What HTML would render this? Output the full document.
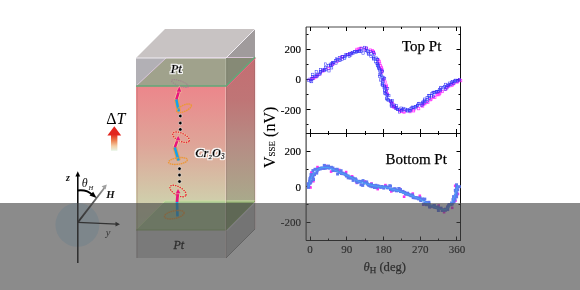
<!DOCTYPE html>
<html><head><meta charset="utf-8">
<style>
html,body{margin:0;padding:0;background:#fff;}
body{width:580px;height:290px;overflow:hidden;position:relative;}
svg{position:absolute;left:0;top:0;will-change:transform;}
.ov{position:absolute;left:0;top:203px;width:580px;height:87px;background:rgba(72,72,72,0.63);}
</style></head><body>
<svg width="580" height="290" viewBox="0 0 580 290" style="font-family:'Liberation Serif',serif">
<defs>
<linearGradient id="crF" x1="0" y1="0" x2="0" y2="1">
<stop offset="0" stop-color="#ec868b"/>
<stop offset="0.4" stop-color="#dfa498"/>
<stop offset="0.79" stop-color="#d0cdab"/>
<stop offset="1" stop-color="#c8d6ad"/>
</linearGradient>
<linearGradient id="crS" x1="0" y1="0" x2="0" y2="1">
<stop offset="0" stop-color="#c46e72"/>
<stop offset="0.25" stop-color="#bf7576"/>
<stop offset="0.5" stop-color="#b68c84"/>
<stop offset="0.83" stop-color="#a9a98b"/>
<stop offset="1" stop-color="#a2b08a"/>
</linearGradient>
<linearGradient id="arr" x1="0" y1="0" x2="0" y2="1">
<stop offset="0" stop-color="#e2301f"/>
<stop offset="0.35" stop-color="#ec8050"/>
<stop offset="0.7" stop-color="#f4cfa6"/>
<stop offset="1" stop-color="#e6f4e6"/>
</linearGradient>
<linearGradient id="harr" gradientUnits="userSpaceOnUse" x1="77.8" y1="222.4" x2="106.8" y2="184.6">
<stop offset="0" stop-color="#101010"/>
<stop offset="0.5" stop-color="#555"/>
<stop offset="1" stop-color="#a0a0a0"/>
</linearGradient>
<filter id="halo" x="-20%" y="-20%" width="140%" height="140%">
<feMorphology operator="dilate" radius="0.8" in="SourceAlpha" result="d"/>
<feGaussianBlur in="d" stdDeviation="0.5" result="b"/>
<feFlood flood-color="#fff"/><feComposite in2="b" operator="in" result="w"/>
<feMerge><feMergeNode in="w"/><feMergeNode in="SourceGraphic"/></feMerge>
</filter>
</defs>

<!-- ===== Cuboid ===== -->
<!-- bottom Pt -->
<polygon points="226,230 255,201 255,229 226,258" fill="#c2c2c2"/>
<rect x="136" y="230" width="90" height="28" fill="#d0d0d0"/>
<!-- Cr2O3 -->
<rect x="136" y="86" width="90" height="144" fill="url(#crF)"/>
<polygon points="226,86 255,57 255,201 226,230" fill="url(#crS)"/>
<!-- bottom Pt top face (seen through) -->
<polygon points="136,230 226,230 255,201 165,201" fill="#aac692"/>
<polygon points="226,230 255,201 226,201" fill="#88a06c"/>
<path d="M136,230 L165,201 L255,201" stroke="#c8e0a0" stroke-width="1" fill="none"/>
<path d="M136,230 L226,230 L255,201" stroke="#8fb06a" stroke-width="1" fill="none"/>
<path d="M226.5,231 L255,202.5" stroke="#f0f0f0" stroke-width="0.8" fill="none"/>
<path d="M226,258 L255,229" stroke="#808080" stroke-width="0.8" fill="none"/>
<line x1="137.3" y1="87" x2="137.3" y2="258" stroke="#906060" stroke-width="0.9" opacity="0.3"/>
<line x1="225.5" y1="86" x2="225.5" y2="258" stroke="#f0d8d0" stroke-width="0.8" opacity="0.55"/>
<line x1="226.6" y1="86" x2="226.6" y2="258" stroke="#806060" stroke-width="0.8" opacity="0.3"/>
<line x1="254.6" y1="57" x2="254.6" y2="229" stroke="#705050" stroke-width="0.8" opacity="0.3"/>
<line x1="255.7" y1="57" x2="255.7" y2="229" stroke="#f0c8c8" stroke-width="0.8" opacity="0.6"/>
<!-- top Pt -->
<polygon points="136,58 226,58 255,29 165,29" fill="#c8c3c3"/>
<rect x="136" y="58" width="90" height="28" fill="#a0a28c"/>
<polygon points="136,58 166.5,58 136,86.5" fill="#b2b0b5"/>
<polygon points="226,58 255,29 255,57 226,57" fill="#a09b9c"/>
<polygon points="226,57 255,57 226,86" fill="#868a76"/>
<line x1="225.6" y1="58" x2="225.6" y2="86" stroke="#b4b6a4" stroke-width="0.8"/>
<line x1="227" y1="58" x2="227" y2="86" stroke="#7c806c" stroke-width="0.8" opacity="0.6"/>
<path d="M136,86 L166.5,57.5 L255,57.5" stroke="#d8c4d6" stroke-width="1" fill="none"/>
<path d="M226.8,87.2 L255.5,58.5" stroke="#e06a84" stroke-width="1" fill="none"/>
<path d="M136,86 L226,86 L255,57" stroke="#62a878" stroke-width="1.5" fill="none"/>
<path d="M136,58 L226,58 L255,29" stroke="#f0ecf2" stroke-width="1" fill="none"/>

<!-- spins -->
<g fill="none">
<ellipse cx="180" cy="83.5" rx="9" ry="2.6" transform="rotate(20 180 83.5)" stroke="#a07a90" stroke-width="1" stroke-dasharray="1.3 0.9" opacity="0.8"/>
<path d="M179,91 L176.3,99.5" stroke="#f4e0a0" stroke-width="3.8"/>
<path d="M176.3,99.5 L178.8,111.5" stroke="#f0a040" stroke-width="4.4"/>
<path d="M179,91 L176.3,99.5" stroke="#e8157c" stroke-width="2.6"/>
<polygon points="179.4,85.8 176.2,92 181.8,92.2" fill="#e8157c" stroke="#f0d8a0" stroke-width="0.5"/>
<path d="M176.3,99.5 L178.8,111.5" stroke="#16a0ec" stroke-width="2.6"/>
<ellipse cx="184" cy="108.3" rx="8" ry="3.1" transform="rotate(-24 184 108.3)" stroke="#ec9838" stroke-width="1.4" stroke-dasharray="1.6 0.6"/>

<ellipse cx="181" cy="137.2" rx="9" ry="4" transform="rotate(25 181 137.2)" stroke="#f0f0b0" stroke-width="2" opacity="0.7"/>
<ellipse cx="181" cy="137.2" rx="9" ry="4" transform="rotate(25 181 137.2)" stroke="#e8283c" stroke-width="1.4" stroke-dasharray="1.5 0.9"/>
<path d="M177.5,140 L174.8,147.5" stroke="#f4e0a0" stroke-width="3.8"/>
<path d="M174.8,147.5 L178.6,160.5" stroke="#f0a040" stroke-width="4.4"/>
<path d="M177.5,140 L174.8,147.5" stroke="#e8157c" stroke-width="2.6"/>
<polygon points="178.2,135.2 175.2,140.8 180.9,140.6" fill="#e8157c" stroke="#f0d8a0" stroke-width="0.5"/>
<path d="M174.8,147.5 L178.6,160.5" stroke="#16a0ec" stroke-width="2.6"/>
<ellipse cx="178" cy="161" rx="9.5" ry="3.2" transform="rotate(-8 178 161)" stroke="#ec9838" stroke-width="1.4" stroke-dasharray="1.6 0.6"/>

<ellipse cx="178" cy="191" rx="9" ry="4.2" transform="rotate(30 178 191)" stroke="#d8f0b0" stroke-width="2.2" opacity="0.8"/>
<ellipse cx="178" cy="191" rx="9" ry="4.2" transform="rotate(30 178 191)" stroke="#e8283c" stroke-width="1.4" stroke-dasharray="1.5 0.9"/>
<path d="M177.8,193 L177,202" stroke="#e8157c" stroke-width="2.8"/>
<polygon points="178,188.3 175.2,193.8 180.9,193.6" fill="#e8157c" stroke="#e0f0b0" stroke-width="0.5"/>
<path d="M177,202 L177.5,216.5" stroke="#16a0ec" stroke-width="2.6"/>
<ellipse cx="174.3" cy="214.7" rx="10" ry="3.8" transform="rotate(-12 174.3 214.7)" stroke="#ec9838" stroke-width="1.4" stroke-dasharray="1.6 0.6"/>
</g>
<g fill="#000" stroke="#fff" stroke-width="0.5">
<circle cx="180.3" cy="116" r="1.75"/><circle cx="180.3" cy="123.1" r="1.75"/><circle cx="180.3" cy="129.4" r="1.75"/>
<circle cx="179.5" cy="168.7" r="1.75"/><circle cx="179.5" cy="175" r="1.75"/><circle cx="179.5" cy="181.5" r="1.75"/>
</g>
<g filter="url(#halo)" font-weight="bold" font-style="italic" fill="#000" stroke="#000" stroke-width="0.35">
<text x="170.6" y="72.7" font-size="12.5">Pt</text>
<text x="195.2" y="157.2" font-size="12.6">Cr<tspan font-size="7" dy="2.2">2</tspan><tspan dy="-2.2">O</tspan><tspan font-size="7.4" dy="2.2">3</tspan></text>
</g>
<text x="173.4" y="248.6" font-size="12" font-style="italic" fill="#000" stroke="#000" stroke-width="0.3">Pt</text>

<!-- Delta T arrow -->
<text x="106.2" y="124" font-size="16" fill="#000">Δ<tspan font-style="italic">T</tspan></text>
<polygon points="107.4,135.6 114.3,126.2 121.2,135.6" fill="#e2261e"/>
<rect x="111" y="135" width="6.4" height="15.8" fill="url(#arr)"/>

<!-- coordinate system -->
<circle cx="77.4" cy="224.8" r="22" fill="#daf0ff"/>
<line x1="77.8" y1="263" x2="77.8" y2="174" stroke="#000" stroke-width="1.5"/>
<polygon points="75.4,176.5 77.8,171.3 80.2,176.5" fill="#000"/>
<line x1="77.8" y1="222.4" x2="117" y2="224.1" stroke="#111" stroke-width="1.3"/>
<polygon points="115.5,221.8 120,224.2 115.5,226.4" fill="#111"/>
<line x1="77.8" y1="222.4" x2="104.5" y2="187.8" stroke="url(#harr)" stroke-width="1.8"/>
<polygon points="101.6,186.2 106.8,184.6 105.6,189.6" fill="#a0a0a0"/>
<path d="M77.6,190.4 Q87,189.2 92.5,195" stroke="#000" stroke-width="2" fill="none"/>
<polygon points="89.5,195.6 96.6,197.9 93.2,191.8" fill="#000"/>
<text x="66" y="180.7" font-size="10" font-style="italic" font-weight="bold" fill="#111">z</text>
<text x="81.8" y="186.7" font-size="12" font-style="italic" fill="#111">θ</text>
<text x="88.4" y="189.8" font-size="6.5" font-style="italic" fill="#111">H</text>
<text x="106.2" y="197.6" font-size="10.8" font-style="italic" font-weight="bold" fill="#111">H</text>
<text x="105.8" y="235.8" font-size="10.5" font-style="italic" fill="#111">y</text>

<!-- ===== Plot ===== -->
<g stroke="#111" stroke-width="1" fill="none">
<line x1="306" y1="27" x2="460.5" y2="27" stroke="#333" stroke-width="0.9"/>
<line x1="306.1" y1="27" x2="306.1" y2="240.5" stroke="#333" stroke-width="1.1"/>
<line x1="460.5" y1="26.5" x2="460.5" y2="241"/>
<line x1="306" y1="133.5" x2="460.5" y2="133.5"/>
<line x1="306" y1="240.5" x2="460.5" y2="240.5"/>
</g>
<g stroke="#000" stroke-width="1" fill="none">
<path d="M310.5,27v4 M310.5,129v8 M310.5,240.5v-4 M346.5,27v4 M346.5,129v8 M346.5,240.5v-4 M383.5,27v4 M383.5,129v8 M383.5,240.5v-4 M420.5,27v4 M420.5,129v8 M420.5,240.5v-4 M456.5,27v4 M456.5,129v8 M456.5,240.5v-4 M328.5,27v2 M328.5,131v4 M328.5,240.5v-2 M365.5,27v2 M365.5,131v4 M365.5,240.5v-2 M401.5,27v2 M401.5,131v4 M401.5,240.5v-2 M438.5,27v2 M438.5,131v4 M438.5,240.5v-2 M306.5,49.5h4 M460.5,49.5h-4 M306.5,79.5h4 M460.5,79.5h-4 M306.5,109.5h4 M460.5,109.5h-4 M306.5,151.5h4 M460.5,151.5h-4 M306.5,186.5h4 M460.5,186.5h-4 M306.5,222.5h4 M460.5,222.5h-4 M306.5,34.5h2 M460.5,34.5h-2 M306.5,64.5h2 M460.5,64.5h-2 M306.5,94.5h2 M460.5,94.5h-2 M306.5,124.5h2 M460.5,124.5h-2 M306.5,169.5h2 M460.5,169.5h-2 M306.5,204.5h2 M460.5,204.5h-2"/>
</g>
<g font-size="11" fill="#000" stroke="#000" stroke-width="0.15" text-anchor="end">
<text x="301" y="53.2">200</text>
<text x="301" y="83.4">0</text>
<text x="301" y="113.6">-200</text>
<text x="301" y="155">200</text>
<text x="301" y="190.5">0</text>
<text x="301" y="226">-200</text>
</g>
<g font-size="11" fill="#000" stroke="#000" stroke-width="0.15" text-anchor="middle">
<text x="310.1" y="252.7">0</text>
<text x="346.8" y="252.7">90</text>
<text x="383.5" y="252.7">180</text>
<text x="420.2" y="252.7">270</text>
<text x="456.9" y="252.7">360</text>
</g>
<text x="363.6" y="271" font-size="12.6" fill="#000" stroke="#000" stroke-width="0.25"><tspan font-style="italic">θ</tspan><tspan font-size="9" dy="2">H</tspan><tspan dy="-2"> (deg)</tspan></text>
<text transform="translate(275 168) rotate(-90)" font-size="16" fill="#000" stroke="#000" stroke-width="0.1">V<tspan font-size="9">SSE</tspan> (nV)</text>
<text x="402" y="51.1" font-size="15" fill="#000" stroke="#000" stroke-width="0.25">Top Pt</text>
<text x="385.6" y="164.2" font-size="15" fill="#000" stroke="#000" stroke-width="0.25">Bottom Pt</text>

<!-- data top -->
<g fill="none" stroke="#ff30ff" stroke-width="0.7"><rect x="308.9" y="78.1" width="2.2" height="2.2"/><rect x="310.6" y="77.7" width="2.2" height="2.2"/><rect x="312.5" y="76.9" width="2.2" height="2.2"/><rect x="312.7" y="76.9" width="2.2" height="2.2"/><rect x="314.9" y="75.9" width="2.2" height="2.2"/><rect x="316.1" y="74.3" width="2.2" height="2.2"/><rect x="318.9" y="73.0" width="2.2" height="2.2"/><rect x="321.8" y="69.9" width="2.2" height="2.2"/><rect x="322.8" y="69.1" width="2.2" height="2.2"/><rect x="327.1" y="67.6" width="2.2" height="2.2"/><rect x="329.7" y="64.6" width="2.2" height="2.2"/><rect x="331.5" y="63.3" width="2.2" height="2.2"/><rect x="332.6" y="61.7" width="2.2" height="2.2"/><rect x="336.1" y="60.2" width="2.2" height="2.2"/><rect x="339.7" y="56.9" width="2.2" height="2.2"/><rect x="341.6" y="55.7" width="2.2" height="2.2"/><rect x="346.3" y="53.4" width="2.2" height="2.2"/><rect x="348.4" y="53.2" width="2.2" height="2.2"/><rect x="350.1" y="52.2" width="2.2" height="2.2"/><rect x="355.5" y="49.8" width="2.2" height="2.2"/><rect x="355.8" y="48.2" width="2.2" height="2.2"/><rect x="357.8" y="47.8" width="2.2" height="2.2"/><rect x="358.7" y="48.0" width="2.2" height="2.2"/><rect x="359.9" y="47.0" width="2.2" height="2.2"/><rect x="363.8" y="47.9" width="2.2" height="2.2"/><rect x="365.5" y="47.1" width="2.2" height="2.2"/><rect x="369.2" y="48.9" width="2.2" height="2.2"/><rect x="371.2" y="49.5" width="2.2" height="2.2"/><rect x="372.3" y="50.5" width="2.2" height="2.2"/><rect x="373.0" y="52.4" width="2.2" height="2.2"/><rect x="377.2" y="58.9" width="2.2" height="2.2"/><rect x="378.1" y="60.2" width="2.2" height="2.2"/><rect x="378.6" y="62.3" width="2.2" height="2.2"/><rect x="379.2" y="64.5" width="2.2" height="2.2"/><rect x="380.0" y="66.1" width="2.2" height="2.2"/><rect x="380.5" y="67.0" width="2.2" height="2.2"/><rect x="380.4" y="68.8" width="2.2" height="2.2"/><rect x="380.8" y="68.5" width="2.2" height="2.2"/><rect x="380.7" y="71.1" width="2.2" height="2.2"/><rect x="382.7" y="78.2" width="2.2" height="2.2"/><rect x="384.0" y="80.9" width="2.2" height="2.2"/><rect x="385.1" y="84.1" width="2.2" height="2.2"/><rect x="385.1" y="85.4" width="2.2" height="2.2"/><rect x="385.2" y="86.2" width="2.2" height="2.2"/><rect x="385.5" y="89.0" width="2.2" height="2.2"/><rect x="386.0" y="92.5" width="2.2" height="2.2"/><rect x="386.3" y="93.4" width="2.2" height="2.2"/><rect x="389.2" y="100.3" width="2.2" height="2.2"/><rect x="390.4" y="101.8" width="2.2" height="2.2"/><rect x="391.5" y="102.4" width="2.2" height="2.2"/><rect x="392.2" y="104.3" width="2.2" height="2.2"/><rect x="391.9" y="105.3" width="2.2" height="2.2"/><rect x="392.5" y="105.8" width="2.2" height="2.2"/><rect x="393.4" y="105.9" width="2.2" height="2.2"/><rect x="395.3" y="107.3" width="2.2" height="2.2"/><rect x="398.4" y="109.3" width="2.2" height="2.2"/><rect x="399.8" y="109.8" width="2.2" height="2.2"/><rect x="400.5" y="110.5" width="2.2" height="2.2"/><rect x="402.9" y="110.8" width="2.2" height="2.2"/><rect x="402.9" y="110.8" width="2.2" height="2.2"/><rect x="409.0" y="110.6" width="2.2" height="2.2"/><rect x="412.5" y="109.8" width="2.2" height="2.2"/><rect x="412.7" y="108.7" width="2.2" height="2.2"/><rect x="417.6" y="107.6" width="2.2" height="2.2"/><rect x="420.3" y="104.3" width="2.2" height="2.2"/><rect x="421.6" y="105.0" width="2.2" height="2.2"/><rect x="422.2" y="103.2" width="2.2" height="2.2"/><rect x="423.8" y="102.7" width="2.2" height="2.2"/><rect x="425.0" y="101.4" width="2.2" height="2.2"/><rect x="426.8" y="101.2" width="2.2" height="2.2"/><rect x="429.4" y="98.7" width="2.2" height="2.2"/><rect x="429.9" y="98.2" width="2.2" height="2.2"/><rect x="432.4" y="96.2" width="2.2" height="2.2"/><rect x="433.8" y="96.4" width="2.2" height="2.2"/><rect x="435.8" y="93.7" width="2.2" height="2.2"/><rect x="436.6" y="93.3" width="2.2" height="2.2"/><rect x="437.8" y="93.6" width="2.2" height="2.2"/><rect x="437.9" y="91.8" width="2.2" height="2.2"/><rect x="438.7" y="92.2" width="2.2" height="2.2"/><rect x="439.6" y="90.3" width="2.2" height="2.2"/><rect x="441.1" y="90.5" width="2.2" height="2.2"/><rect x="444.7" y="88.1" width="2.2" height="2.2"/><rect x="445.7" y="86.6" width="2.2" height="2.2"/><rect x="447.2" y="85.3" width="2.2" height="2.2"/><rect x="448.8" y="84.7" width="2.2" height="2.2"/><rect x="450.9" y="84.2" width="2.2" height="2.2"/><rect x="451.5" y="83.1" width="2.2" height="2.2"/><rect x="452.7" y="82.6" width="2.2" height="2.2"/><rect x="456.1" y="81.0" width="2.2" height="2.2"/><rect x="455.8" y="80.2" width="2.2" height="2.2"/><rect x="458.1" y="78.8" width="2.2" height="2.2"/><rect x="459.6" y="79.6" width="2.2" height="2.2"/></g>
<g fill="none" stroke="#2a2af6" stroke-width="0.5"><rect x="307.4" y="79.0" width="2.3" height="2.3"/><rect x="309.4" y="79.8" width="2.3" height="2.3"/><rect x="310.5" y="80.5" width="2.3" height="2.3"/><rect x="310.8" y="77.6" width="2.3" height="2.3"/><rect x="311.7" y="77.5" width="2.3" height="2.3"/><rect x="311.3" y="75.4" width="2.3" height="2.3"/><rect x="311.7" y="73.2" width="2.3" height="2.3"/><rect x="313.8" y="75.2" width="2.3" height="2.3"/><rect x="314.9" y="74.9" width="2.3" height="2.3"/><rect x="315.9" y="75.2" width="2.3" height="2.3"/><rect x="315.8" y="73.5" width="2.3" height="2.3"/><rect x="315.1" y="70.7" width="2.3" height="2.3"/><rect x="318.0" y="73.1" width="2.3" height="2.3"/><rect x="319.1" y="71.8" width="2.3" height="2.3"/><rect x="319.2" y="70.8" width="2.3" height="2.3"/><rect x="319.8" y="70.4" width="2.3" height="2.3"/><rect x="319.7" y="68.5" width="2.3" height="2.3"/><rect x="321.5" y="69.0" width="2.3" height="2.3"/><rect x="323.1" y="69.5" width="2.3" height="2.3"/><rect x="323.7" y="68.2" width="2.3" height="2.3"/><rect x="324.8" y="68.1" width="2.3" height="2.3"/><rect x="324.5" y="66.3" width="2.3" height="2.3"/><rect x="327.8" y="69.7" width="2.3" height="2.3"/><rect x="324.3" y="62.9" width="2.3" height="2.3"/><rect x="327.6" y="64.6" width="2.3" height="2.3"/><rect x="330.5" y="66.7" width="2.3" height="2.3"/><rect x="329.5" y="64.6" width="2.3" height="2.3"/><rect x="329.1" y="63.1" width="2.3" height="2.3"/><rect x="330.8" y="62.4" width="2.3" height="2.3"/><rect x="331.7" y="62.9" width="2.3" height="2.3"/><rect x="331.6" y="61.6" width="2.3" height="2.3"/><rect x="332.8" y="61.2" width="2.3" height="2.3"/><rect x="334.8" y="61.9" width="2.3" height="2.3"/><rect x="334.7" y="59.5" width="2.3" height="2.3"/><rect x="335.3" y="57.8" width="2.3" height="2.3"/><rect x="336.3" y="58.7" width="2.3" height="2.3"/><rect x="338.2" y="58.9" width="2.3" height="2.3"/><rect x="339.3" y="59.1" width="2.3" height="2.3"/><rect x="338.2" y="56.3" width="2.3" height="2.3"/><rect x="341.0" y="58.0" width="2.3" height="2.3"/><rect x="340.9" y="55.7" width="2.3" height="2.3"/><rect x="341.8" y="55.5" width="2.3" height="2.3"/><rect x="343.5" y="57.1" width="2.3" height="2.3"/><rect x="343.8" y="55.6" width="2.3" height="2.3"/><rect x="344.2" y="53.8" width="2.3" height="2.3"/><rect x="345.3" y="54.0" width="2.3" height="2.3"/><rect x="346.7" y="53.3" width="2.3" height="2.3"/><rect x="348.4" y="55.4" width="2.3" height="2.3"/><rect x="348.6" y="52.7" width="2.3" height="2.3"/><rect x="349.6" y="53.8" width="2.3" height="2.3"/><rect x="350.0" y="52.1" width="2.3" height="2.3"/><rect x="351.3" y="51.5" width="2.3" height="2.3"/><rect x="352.2" y="52.1" width="2.3" height="2.3"/><rect x="353.2" y="50.6" width="2.3" height="2.3"/><rect x="354.0" y="50.5" width="2.3" height="2.3"/><rect x="355.4" y="51.2" width="2.3" height="2.3"/><rect x="356.2" y="50.4" width="2.3" height="2.3"/><rect x="357.3" y="50.4" width="2.3" height="2.3"/><rect x="358.2" y="49.9" width="2.3" height="2.3"/><rect x="358.8" y="49.9" width="2.3" height="2.3"/><rect x="360.0" y="47.7" width="2.3" height="2.3"/><rect x="360.3" y="50.0" width="2.3" height="2.3"/><rect x="361.9" y="51.9" width="2.3" height="2.3"/><rect x="363.3" y="46.2" width="2.3" height="2.3"/><rect x="364.0" y="48.9" width="2.3" height="2.3"/><rect x="365.3" y="46.9" width="2.3" height="2.3"/><rect x="365.7" y="49.5" width="2.3" height="2.3"/><rect x="366.7" y="50.1" width="2.3" height="2.3"/><rect x="367.1" y="52.3" width="2.3" height="2.3"/><rect x="369.3" y="50.4" width="2.3" height="2.3"/><rect x="367.5" y="53.1" width="2.3" height="2.3"/><rect x="369.9" y="52.6" width="2.3" height="2.3"/><rect x="372.5" y="51.4" width="2.3" height="2.3"/><rect x="369.8" y="55.3" width="2.3" height="2.3"/><rect x="373.3" y="53.2" width="2.3" height="2.3"/><rect x="372.2" y="56.1" width="2.3" height="2.3"/><rect x="372.6" y="57.3" width="2.3" height="2.3"/><rect x="372.4" y="57.8" width="2.3" height="2.3"/><rect x="375.1" y="56.9" width="2.3" height="2.3"/><rect x="375.9" y="58.0" width="2.3" height="2.3"/><rect x="376.5" y="58.7" width="2.3" height="2.3"/><rect x="374.7" y="60.6" width="2.3" height="2.3"/><rect x="376.3" y="62.1" width="2.3" height="2.3"/><rect x="375.9" y="62.6" width="2.3" height="2.3"/><rect x="377.2" y="63.4" width="2.3" height="2.3"/><rect x="376.6" y="64.5" width="2.3" height="2.3"/><rect x="377.1" y="65.4" width="2.3" height="2.3"/><rect x="377.4" y="66.4" width="2.3" height="2.3"/><rect x="377.8" y="67.5" width="2.3" height="2.3"/><rect x="378.8" y="68.1" width="2.3" height="2.3"/><rect x="378.5" y="69.1" width="2.3" height="2.3"/><rect x="380.9" y="69.8" width="2.3" height="2.3"/><rect x="381.2" y="70.4" width="2.3" height="2.3"/><rect x="379.0" y="72.4" width="2.3" height="2.3"/><rect x="378.9" y="73.6" width="2.3" height="2.3"/><rect x="380.2" y="74.0" width="2.3" height="2.3"/><rect x="378.6" y="75.3" width="2.3" height="2.3"/><rect x="381.6" y="76.0" width="2.3" height="2.3"/><rect x="382.6" y="76.8" width="2.3" height="2.3"/><rect x="383.5" y="77.4" width="2.3" height="2.3"/><rect x="379.7" y="78.8" width="2.3" height="2.3"/><rect x="381.1" y="79.6" width="2.3" height="2.3"/><rect x="381.9" y="80.6" width="2.3" height="2.3"/><rect x="381.4" y="82.2" width="2.3" height="2.3"/><rect x="381.0" y="83.5" width="2.3" height="2.3"/><rect x="381.6" y="84.2" width="2.3" height="2.3"/><rect x="383.1" y="84.8" width="2.3" height="2.3"/><rect x="383.7" y="85.3" width="2.3" height="2.3"/><rect x="383.0" y="86.5" width="2.3" height="2.3"/><rect x="386.5" y="87.3" width="2.3" height="2.3"/><rect x="383.7" y="88.8" width="2.3" height="2.3"/><rect x="383.8" y="89.7" width="2.3" height="2.3"/><rect x="385.2" y="90.3" width="2.3" height="2.3"/><rect x="383.6" y="91.8" width="2.3" height="2.3"/><rect x="384.2" y="92.6" width="2.3" height="2.3"/><rect x="385.8" y="93.7" width="2.3" height="2.3"/><rect x="386.4" y="94.4" width="2.3" height="2.3"/><rect x="387.7" y="94.5" width="2.3" height="2.3"/><rect x="385.5" y="97.0" width="2.3" height="2.3"/><rect x="385.9" y="97.9" width="2.3" height="2.3"/><rect x="386.8" y="98.4" width="2.3" height="2.3"/><rect x="387.0" y="99.1" width="2.3" height="2.3"/><rect x="389.2" y="99.6" width="2.3" height="2.3"/><rect x="391.2" y="99.7" width="2.3" height="2.3"/><rect x="389.9" y="100.7" width="2.3" height="2.3"/><rect x="390.4" y="102.0" width="2.3" height="2.3"/><rect x="390.1" y="103.9" width="2.3" height="2.3"/><rect x="390.2" y="105.2" width="2.3" height="2.3"/><rect x="393.1" y="103.9" width="2.3" height="2.3"/><rect x="393.0" y="105.6" width="2.3" height="2.3"/><rect x="395.1" y="104.3" width="2.3" height="2.3"/><rect x="394.5" y="107.2" width="2.3" height="2.3"/><rect x="395.5" y="106.6" width="2.3" height="2.3"/><rect x="396.2" y="108.2" width="2.3" height="2.3"/><rect x="396.5" y="108.4" width="2.3" height="2.3"/><rect x="397.9" y="108.1" width="2.3" height="2.3"/><rect x="398.3" y="110.8" width="2.3" height="2.3"/><rect x="399.9" y="107.0" width="2.3" height="2.3"/><rect x="400.5" y="109.3" width="2.3" height="2.3"/><rect x="401.7" y="108.4" width="2.3" height="2.3"/><rect x="402.3" y="107.2" width="2.3" height="2.3"/><rect x="403.8" y="108.0" width="2.3" height="2.3"/><rect x="405.4" y="109.1" width="2.3" height="2.3"/><rect x="406.2" y="109.8" width="2.3" height="2.3"/><rect x="406.5" y="108.7" width="2.3" height="2.3"/><rect x="408.6" y="109.7" width="2.3" height="2.3"/><rect x="409.4" y="109.5" width="2.3" height="2.3"/><rect x="409.7" y="107.8" width="2.3" height="2.3"/><rect x="410.4" y="106.9" width="2.3" height="2.3"/><rect x="411.7" y="106.0" width="2.3" height="2.3"/><rect x="412.5" y="106.4" width="2.3" height="2.3"/><rect x="413.8" y="106.7" width="2.3" height="2.3"/><rect x="414.3" y="105.6" width="2.3" height="2.3"/><rect x="414.9" y="105.6" width="2.3" height="2.3"/><rect x="416.4" y="104.2" width="2.3" height="2.3"/><rect x="416.6" y="104.1" width="2.3" height="2.3"/><rect x="417.4" y="102.7" width="2.3" height="2.3"/><rect x="418.1" y="102.2" width="2.3" height="2.3"/><rect x="420.8" y="104.2" width="2.3" height="2.3"/><rect x="421.1" y="102.7" width="2.3" height="2.3"/><rect x="421.6" y="101.1" width="2.3" height="2.3"/><rect x="422.8" y="101.8" width="2.3" height="2.3"/><rect x="422.9" y="100.5" width="2.3" height="2.3"/><rect x="423.2" y="99.3" width="2.3" height="2.3"/><rect x="423.5" y="98.0" width="2.3" height="2.3"/><rect x="426.1" y="100.0" width="2.3" height="2.3"/><rect x="426.2" y="98.2" width="2.3" height="2.3"/><rect x="426.0" y="96.4" width="2.3" height="2.3"/><rect x="428.5" y="97.4" width="2.3" height="2.3"/><rect x="427.7" y="94.7" width="2.3" height="2.3"/><rect x="428.5" y="94.5" width="2.3" height="2.3"/><rect x="430.6" y="94.7" width="2.3" height="2.3"/><rect x="432.2" y="95.4" width="2.3" height="2.3"/><rect x="430.8" y="92.4" width="2.3" height="2.3"/><rect x="431.9" y="91.7" width="2.3" height="2.3"/><rect x="432.8" y="91.1" width="2.3" height="2.3"/><rect x="433.3" y="91.5" width="2.3" height="2.3"/><rect x="435.0" y="91.0" width="2.3" height="2.3"/><rect x="435.3" y="90.3" width="2.3" height="2.3"/><rect x="436.6" y="90.7" width="2.3" height="2.3"/><rect x="437.6" y="90.1" width="2.3" height="2.3"/><rect x="438.7" y="88.5" width="2.3" height="2.3"/><rect x="439.5" y="89.4" width="2.3" height="2.3"/><rect x="439.4" y="86.9" width="2.3" height="2.3"/><rect x="439.8" y="86.2" width="2.3" height="2.3"/><rect x="442.1" y="86.6" width="2.3" height="2.3"/><rect x="444.1" y="88.1" width="2.3" height="2.3"/><rect x="443.5" y="85.2" width="2.3" height="2.3"/><rect x="445.7" y="86.7" width="2.3" height="2.3"/><rect x="444.5" y="83.2" width="2.3" height="2.3"/><rect x="446.2" y="84.8" width="2.3" height="2.3"/><rect x="447.1" y="84.5" width="2.3" height="2.3"/><rect x="447.9" y="83.5" width="2.3" height="2.3"/><rect x="448.2" y="82.0" width="2.3" height="2.3"/><rect x="449.7" y="83.2" width="2.3" height="2.3"/><rect x="450.5" y="81.1" width="2.3" height="2.3"/><rect x="451.3" y="80.6" width="2.3" height="2.3"/><rect x="452.6" y="82.0" width="2.3" height="2.3"/><rect x="453.5" y="80.7" width="2.3" height="2.3"/><rect x="453.9" y="79.5" width="2.3" height="2.3"/><rect x="454.6" y="79.1" width="2.3" height="2.3"/><rect x="456.1" y="80.0" width="2.3" height="2.3"/><rect x="457.2" y="79.4" width="2.3" height="2.3"/><rect x="458.4" y="78.5" width="2.3" height="2.3"/></g>
<g fill="#40b0ff" opacity="0.6"><rect x="308.4" y="77.7" width="1.2" height="1.2"/><rect x="313.8" y="75.3" width="1.2" height="1.2"/><rect x="320.2" y="74.0" width="1.2" height="1.2"/><rect x="325.3" y="70.6" width="1.2" height="1.2"/><rect x="330.0" y="66.7" width="1.2" height="1.2"/><rect x="333.4" y="61.2" width="1.2" height="1.2"/><rect x="338.9" y="58.5" width="1.2" height="1.2"/><rect x="345.2" y="57.3" width="1.2" height="1.2"/><rect x="349.9" y="53.4" width="1.2" height="1.2"/><rect x="355.7" y="51.4" width="1.2" height="1.2"/><rect x="361.3" y="49.0" width="1.2" height="1.2"/><rect x="367.8" y="49.4" width="1.2" height="1.2"/><rect x="372.1" y="54.2" width="1.2" height="1.2"/><rect x="374.6" y="59.8" width="1.2" height="1.2"/><rect x="377.2" y="65.2" width="1.2" height="1.2"/><rect x="379.7" y="70.6" width="1.2" height="1.2"/><rect x="381.4" y="76.5" width="1.2" height="1.2"/><rect x="382.6" y="82.4" width="1.2" height="1.2"/><rect x="384.4" y="88.2" width="1.2" height="1.2"/><rect x="385.9" y="94.1" width="1.2" height="1.2"/><rect x="387.6" y="100.0" width="1.2" height="1.2"/><rect x="392.5" y="104.0" width="1.2" height="1.2"/><rect x="396.6" y="108.4" width="1.2" height="1.2"/><rect x="402.5" y="110.9" width="1.2" height="1.2"/><rect x="408.7" y="110.0" width="1.2" height="1.2"/><rect x="413.7" y="106.3" width="1.2" height="1.2"/><rect x="420.0" y="105.0" width="1.2" height="1.2"/><rect x="424.9" y="101.3" width="1.2" height="1.2"/><rect x="428.8" y="96.3" width="1.2" height="1.2"/><rect x="434.0" y="93.1" width="1.2" height="1.2"/><rect x="438.9" y="89.5" width="1.2" height="1.2"/><rect x="443.8" y="85.9" width="1.2" height="1.2"/><rect x="450.4" y="85.0" width="1.2" height="1.2"/><rect x="454.9" y="80.7" width="1.2" height="1.2"/></g>
<!-- data bottom -->
<g fill="#ff30f0"><rect x="309.2" y="186.2" width="2.6" height="2.6"/><rect x="312.1" y="179.9" width="2.6" height="2.6"/><rect x="310.1" y="171.2" width="2.6" height="2.6"/><rect x="316.2" y="165.8" width="2.6" height="2.6"/><rect x="323.9" y="164.3" width="2.6" height="2.6"/><rect x="329.8" y="170.3" width="2.6" height="2.6"/><rect x="338.0" y="168.7" width="2.6" height="2.6"/><rect x="344.8" y="170.8" width="2.6" height="2.6"/><rect x="350.8" y="175.0" width="2.6" height="2.6"/><rect x="355.5" y="181.6" width="2.6" height="2.6"/><rect x="363.6" y="180.1" width="2.6" height="2.6"/><rect x="370.2" y="182.2" width="2.6" height="2.6"/><rect x="376.4" y="187.8" width="2.6" height="2.6"/><rect x="384.1" y="183.8" width="2.6" height="2.6"/><rect x="390.0" y="190.1" width="2.6" height="2.6"/><rect x="398.2" y="187.4" width="2.6" height="2.6"/><rect x="402.8" y="195.4" width="2.6" height="2.6"/><rect x="411.5" y="192.3" width="2.6" height="2.6"/><rect x="418.5" y="194.5" width="2.6" height="2.6"/><rect x="422.0" y="203.4" width="2.6" height="2.6"/><rect x="428.8" y="205.7" width="2.6" height="2.6"/><rect x="437.4" y="204.2" width="2.6" height="2.6"/><rect x="442.8" y="210.9" width="2.6" height="2.6"/><rect x="450.9" y="206.5" width="2.6" height="2.6"/><rect x="454.1" y="199.5" width="2.6" height="2.6"/><rect x="456.6" y="192.7" width="2.6" height="2.6"/><rect x="453.9" y="184.5" width="2.6" height="2.6"/></g>
<g fill="#5d78f0"><rect x="306.9" y="185.9" width="3" height="3"/><rect x="307.1" y="184.8" width="3" height="3"/><rect x="307.2" y="183.1" width="3" height="3"/><rect x="306.7" y="182.2" width="3" height="3"/><rect x="308.6" y="181.8" width="3" height="3"/><rect x="309.2" y="180.8" width="3" height="3"/><rect x="308.1" y="179.7" width="3" height="3"/><rect x="310.2" y="179.3" width="3" height="3"/><rect x="308.4" y="177.2" width="3" height="3"/><rect x="312.0" y="178.0" width="3" height="3"/><rect x="309.1" y="175.9" width="3" height="3"/><rect x="311.5" y="175.5" width="3" height="3"/><rect x="309.5" y="173.1" width="3" height="3"/><rect x="311.0" y="173.1" width="3" height="3"/><rect x="313.0" y="173.1" width="3" height="3"/><rect x="312.5" y="172.1" width="3" height="3"/><rect x="311.4" y="169.1" width="3" height="3"/><rect x="315.2" y="171.6" width="3" height="3"/><rect x="313.5" y="167.8" width="3" height="3"/><rect x="315.7" y="169.3" width="3" height="3"/><rect x="315.8" y="167.7" width="3" height="3"/><rect x="317.3" y="167.7" width="3" height="3"/><rect x="318.1" y="166.9" width="3" height="3"/><rect x="318.8" y="167.4" width="3" height="3"/><rect x="319.8" y="166.6" width="3" height="3"/><rect x="320.8" y="166.6" width="3" height="3"/><rect x="322.2" y="166.9" width="3" height="3"/><rect x="322.8" y="163.9" width="3" height="3"/><rect x="323.8" y="166.8" width="3" height="3"/><rect x="324.6" y="164.9" width="3" height="3"/><rect x="325.4" y="166.1" width="3" height="3"/><rect x="327.0" y="164.6" width="3" height="3"/><rect x="327.5" y="166.6" width="3" height="3"/><rect x="328.9" y="166.2" width="3" height="3"/><rect x="329.9" y="165.8" width="3" height="3"/><rect x="331.4" y="166.5" width="3" height="3"/><rect x="331.4" y="169.0" width="3" height="3"/><rect x="331.9" y="168.3" width="3" height="3"/><rect x="334.1" y="167.9" width="3" height="3"/><rect x="334.1" y="169.1" width="3" height="3"/><rect x="335.7" y="167.8" width="3" height="3"/><rect x="336.2" y="169.1" width="3" height="3"/><rect x="336.1" y="172.5" width="3" height="3"/><rect x="337.5" y="170.9" width="3" height="3"/><rect x="339.6" y="169.2" width="3" height="3"/><rect x="340.0" y="172.0" width="3" height="3"/><rect x="340.8" y="171.6" width="3" height="3"/><rect x="341.4" y="172.2" width="3" height="3"/><rect x="343.1" y="172.4" width="3" height="3"/><rect x="344.1" y="172.7" width="3" height="3"/><rect x="344.4" y="173.4" width="3" height="3"/><rect x="345.0" y="174.5" width="3" height="3"/><rect x="346.5" y="174.4" width="3" height="3"/><rect x="346.7" y="176.3" width="3" height="3"/><rect x="347.7" y="175.4" width="3" height="3"/><rect x="348.6" y="176.5" width="3" height="3"/><rect x="349.7" y="176.3" width="3" height="3"/><rect x="350.6" y="176.2" width="3" height="3"/><rect x="351.6" y="176.7" width="3" height="3"/><rect x="351.6" y="178.9" width="3" height="3"/><rect x="353.9" y="177.3" width="3" height="3"/><rect x="354.6" y="178.4" width="3" height="3"/><rect x="354.8" y="179.7" width="3" height="3"/><rect x="355.7" y="180.9" width="3" height="3"/><rect x="357.4" y="179.8" width="3" height="3"/><rect x="358.0" y="180.3" width="3" height="3"/><rect x="359.2" y="180.0" width="3" height="3"/><rect x="359.5" y="183.2" width="3" height="3"/><rect x="361.5" y="179.1" width="3" height="3"/><rect x="361.2" y="183.9" width="3" height="3"/><rect x="362.5" y="181.7" width="3" height="3"/><rect x="364.4" y="180.8" width="3" height="3"/><rect x="365.2" y="180.5" width="3" height="3"/><rect x="365.9" y="182.4" width="3" height="3"/><rect x="366.9" y="183.1" width="3" height="3"/><rect x="367.4" y="183.9" width="3" height="3"/><rect x="368.8" y="184.6" width="3" height="3"/><rect x="370.0" y="182.7" width="3" height="3"/><rect x="370.5" y="185.2" width="3" height="3"/><rect x="371.6" y="184.2" width="3" height="3"/><rect x="372.6" y="184.2" width="3" height="3"/><rect x="373.0" y="186.0" width="3" height="3"/><rect x="374.4" y="183.8" width="3" height="3"/><rect x="375.1" y="186.1" width="3" height="3"/><rect x="376.3" y="184.4" width="3" height="3"/><rect x="377.4" y="184.8" width="3" height="3"/><rect x="378.6" y="185.7" width="3" height="3"/><rect x="379.8" y="185.7" width="3" height="3"/><rect x="380.4" y="185.0" width="3" height="3"/><rect x="381.9" y="185.5" width="3" height="3"/><rect x="382.3" y="186.6" width="3" height="3"/><rect x="384.0" y="185.3" width="3" height="3"/><rect x="384.5" y="184.8" width="3" height="3"/><rect x="386.0" y="186.0" width="3" height="3"/><rect x="386.3" y="186.4" width="3" height="3"/><rect x="388.2" y="184.3" width="3" height="3"/><rect x="389.0" y="184.6" width="3" height="3"/><rect x="389.0" y="188.0" width="3" height="3"/><rect x="390.4" y="187.6" width="3" height="3"/><rect x="391.3" y="188.8" width="3" height="3"/><rect x="392.8" y="187.4" width="3" height="3"/><rect x="393.7" y="187.4" width="3" height="3"/><rect x="394.1" y="188.5" width="3" height="3"/><rect x="395.0" y="189.3" width="3" height="3"/><rect x="397.3" y="187.0" width="3" height="3"/><rect x="397.1" y="189.1" width="3" height="3"/><rect x="399.0" y="188.1" width="3" height="3"/><rect x="399.0" y="190.0" width="3" height="3"/><rect x="400.3" y="190.1" width="3" height="3"/><rect x="401.4" y="189.9" width="3" height="3"/><rect x="401.8" y="190.8" width="3" height="3"/><rect x="403.3" y="190.9" width="3" height="3"/><rect x="403.9" y="192.2" width="3" height="3"/><rect x="404.8" y="192.7" width="3" height="3"/><rect x="406.1" y="191.7" width="3" height="3"/><rect x="406.7" y="192.7" width="3" height="3"/><rect x="407.6" y="193.3" width="3" height="3"/><rect x="408.9" y="193.6" width="3" height="3"/><rect x="409.6" y="194.3" width="3" height="3"/><rect x="410.9" y="193.4" width="3" height="3"/><rect x="411.6" y="194.8" width="3" height="3"/><rect x="411.7" y="196.1" width="3" height="3"/><rect x="413.1" y="196.2" width="3" height="3"/><rect x="414.1" y="196.2" width="3" height="3"/><rect x="414.9" y="196.3" width="3" height="3"/><rect x="416.1" y="196.5" width="3" height="3"/><rect x="417.1" y="197.4" width="3" height="3"/><rect x="418.5" y="196.3" width="3" height="3"/><rect x="419.1" y="197.9" width="3" height="3"/><rect x="419.2" y="199.1" width="3" height="3"/><rect x="421.1" y="197.5" width="3" height="3"/><rect x="422.2" y="198.5" width="3" height="3"/><rect x="423.3" y="197.6" width="3" height="3"/><rect x="421.9" y="202.6" width="3" height="3"/><rect x="423.4" y="201.6" width="3" height="3"/><rect x="424.9" y="201.0" width="3" height="3"/><rect x="424.9" y="203.2" width="3" height="3"/><rect x="427.4" y="200.8" width="3" height="3"/><rect x="427.6" y="202.6" width="3" height="3"/><rect x="427.9" y="204.3" width="3" height="3"/><rect x="428.1" y="205.5" width="3" height="3"/><rect x="430.3" y="204.8" width="3" height="3"/><rect x="431.3" y="204.4" width="3" height="3"/><rect x="432.9" y="204.0" width="3" height="3"/><rect x="432.7" y="205.7" width="3" height="3"/><rect x="434.4" y="205.9" width="3" height="3"/><rect x="434.9" y="206.1" width="3" height="3"/><rect x="436.4" y="205.4" width="3" height="3"/><rect x="436.7" y="206.8" width="3" height="3"/><rect x="436.9" y="209.0" width="3" height="3"/><rect x="439.2" y="207.0" width="3" height="3"/><rect x="439.5" y="206.6" width="3" height="3"/><rect x="440.6" y="209.0" width="3" height="3"/><rect x="441.4" y="208.3" width="3" height="3"/><rect x="442.6" y="208.6" width="3" height="3"/><rect x="444.0" y="208.7" width="3" height="3"/><rect x="444.0" y="207.7" width="3" height="3"/><rect x="446.2" y="208.1" width="3" height="3"/><rect x="445.9" y="206.5" width="3" height="3"/><rect x="446.2" y="205.7" width="3" height="3"/><rect x="446.6" y="205.0" width="3" height="3"/><rect x="447.2" y="203.8" width="3" height="3"/><rect x="447.7" y="203.1" width="3" height="3"/><rect x="449.5" y="203.1" width="3" height="3"/><rect x="450.7" y="202.5" width="3" height="3"/><rect x="450.2" y="201.4" width="3" height="3"/><rect x="452.1" y="200.4" width="3" height="3"/><rect x="452.5" y="200.2" width="3" height="3"/><rect x="451.5" y="198.1" width="3" height="3"/><rect x="453.5" y="197.9" width="3" height="3"/><rect x="452.6" y="196.6" width="3" height="3"/><rect x="452.1" y="195.1" width="3" height="3"/><rect x="455.1" y="195.3" width="3" height="3"/><rect x="453.9" y="193.5" width="3" height="3"/><rect x="455.1" y="193.0" width="3" height="3"/><rect x="455.3" y="191.8" width="3" height="3"/><rect x="454.8" y="190.8" width="3" height="3"/><rect x="454.1" y="189.7" width="3" height="3"/><rect x="453.8" y="188.8" width="3" height="3"/><rect x="456.2" y="188.3" width="3" height="3"/><rect x="455.4" y="186.7" width="3" height="3"/><rect x="455.1" y="186.2" width="3" height="3"/><rect x="457.8" y="185.2" width="3" height="3"/><rect x="455.0" y="183.3" width="3" height="3"/></g>
<path d="M308.5,187.0 L309.2,184.1 L310.1,181.2 L311.1,178.3 L312.4,175.6 L314.0,173.0 L316.0,170.8 L318.5,169.0 L321.3,167.9 L324.3,167.4 L327.3,167.4 L330.2,168.2 L333.0,169.3 L335.8,170.6 L338.5,171.9 L341.3,173.0 L344.1,174.2 L346.9,175.4 L349.6,176.7 L352.3,178.2 L354.9,179.6 L357.7,180.9 L360.5,182.0 L363.3,183.0 L366.2,183.9 L369.2,184.7 L372.1,185.4 L375.1,185.9 L378.1,186.4 L381.1,186.8 L384.1,187.2 L387.1,187.7 L390.0,188.4 L392.9,189.2 L395.8,190.1 L398.7,191.0 L401.6,192.0 L404.4,193.0 L407.2,194.1 L410.1,195.2 L412.9,196.3 L415.7,197.4 L418.5,198.6 L421.2,199.9 L423.9,201.4 L426.6,202.8 L429.2,204.2 L431.9,205.6 L434.6,207.0 L437.3,208.4 L440.1,209.5 L443.1,209.7 L446.1,209.5 L448.5,207.6 L450.3,205.3 L451.8,202.6 L453.1,199.9 L454.2,197.0 L455.1,194.2 L456.1,191.3 L456.9,188.4 L457.8,185.5" stroke="#30d8f8" stroke-width="0.9" fill="none" opacity="0.55"/>
</svg>
<div class="ov"></div>
</body></html>
